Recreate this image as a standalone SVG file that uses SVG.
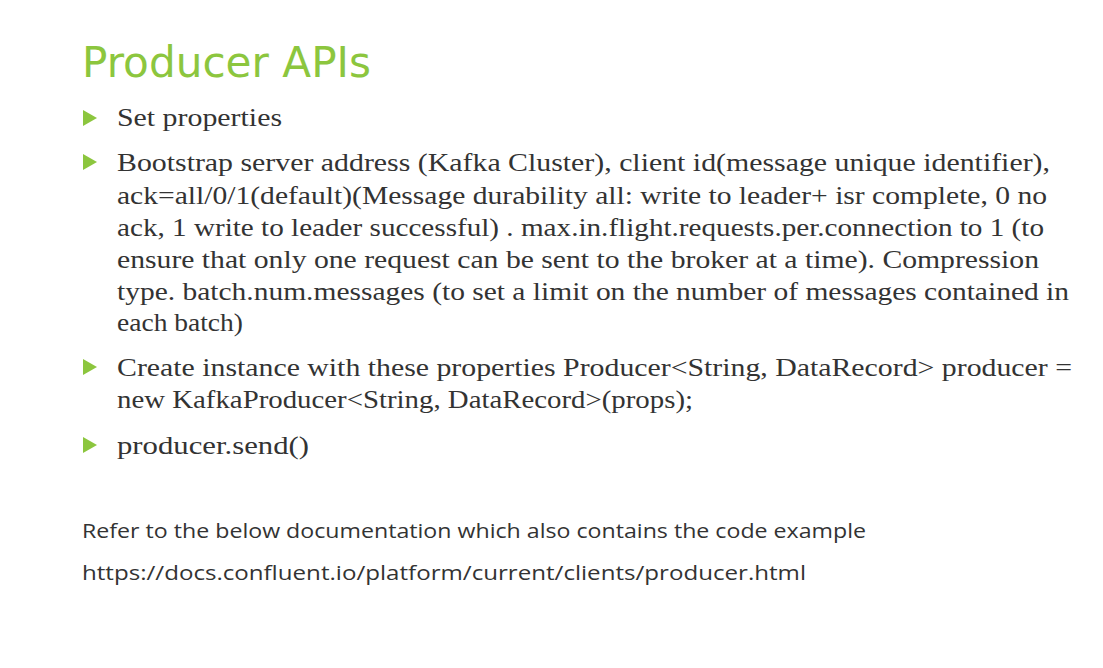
<svg xmlns="http://www.w3.org/2000/svg" width="1103" height="668" viewBox="0 0 1103 668">
<style>
.t{font-family:"DejaVu Sans","Liberation Sans",sans-serif;font-size:42px;fill:#8cc63e}
.b{font-family:"Liberation Serif",serif;font-size:26px;fill:#333}
.f{font-family:"Open Sans","Liberation Sans",sans-serif;font-size:20px;fill:#333}
.m{fill:#8cc63e}
</style>
<rect width="1103" height="668" fill="#fff"/>
<text class="t" x="82" y="77" textLength="289" lengthAdjust="spacingAndGlyphs">Producer APIs</text>
<g id="bullets">
<polygon class="m" points="83,110 97,118 83,126"/>
<polygon class="m" points="83,154 97,162 83,170"/>
<polygon class="m" points="83,359 97,367 83,375"/>
<polygon class="m" points="83,437 97,445 83,453"/>
</g>
<text class="b" x="117" y="126" textLength="165" lengthAdjust="spacingAndGlyphs">Set properties</text>
<text class="b" x="117" y="171" textLength="933" lengthAdjust="spacingAndGlyphs">Bootstrap server address (Kafka Cluster), client id(message unique identifier),</text>
<text class="b" x="117" y="204" textLength="930" lengthAdjust="spacingAndGlyphs">ack=all/0/1(default)(Message durability all: write to leader+ isr complete, 0 no</text>
<text class="b" x="117" y="236" textLength="927" lengthAdjust="spacingAndGlyphs">ack, 1 write to leader successful) . max.in.flight.requests.per.connection to 1 (to</text>
<text class="b" x="117" y="268" textLength="922" lengthAdjust="spacingAndGlyphs">ensure that only one request can be sent to the broker at a time). Compression</text>
<text class="b" x="117" y="300" textLength="952" lengthAdjust="spacingAndGlyphs">type. batch.num.messages (to set a limit on the number of messages contained in</text>
<text class="b" x="117" y="331" textLength="126" lengthAdjust="spacingAndGlyphs">each batch)</text>
<text class="b" x="117" y="376" textLength="955" lengthAdjust="spacingAndGlyphs">Create instance with these properties  Producer&lt;String, DataRecord&gt; producer =</text>
<text class="b" x="117" y="408" textLength="576" lengthAdjust="spacingAndGlyphs">new KafkaProducer&lt;String, DataRecord&gt;(props);</text>
<text class="b" x="117" y="454" textLength="192" lengthAdjust="spacingAndGlyphs">producer.send()</text>
<text class="f" x="82" y="538" textLength="784" lengthAdjust="spacingAndGlyphs">Refer to the below documentation which also contains the code example</text>
<text class="f" x="82" y="580" textLength="724" lengthAdjust="spacingAndGlyphs">https://docs.confluent.io/platform/current/clients/producer.html</text>
</svg>
